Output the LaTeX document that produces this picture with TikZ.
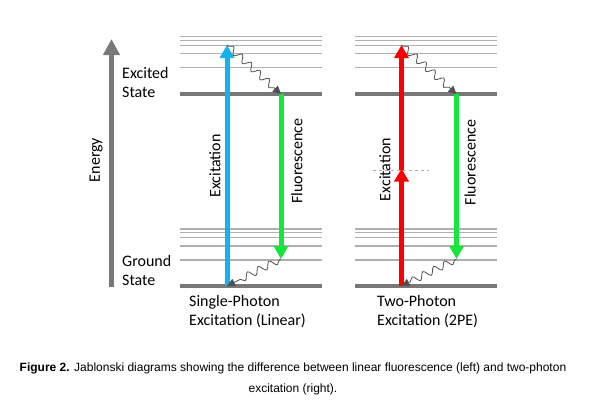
\documentclass[tikz,border=0pt]{standalone}
\usepackage{fontspec}
\setmainfont{Carlito}
\newfontfamily\capfont{Liberation Sans}
\usetikzlibrary{arrows.meta,decorations.pathmorphing}
\definecolor{thickgray}{RGB}{120,120,120}
\definecolor{thingray}{RGB}{175,175,175}
\definecolor{excblue}{RGB}{20,180,235}
\definecolor{fluogreen}{RGB}{20,230,60}
\definecolor{excred}{RGB}{250,0,0}
\definecolor{wavegray}{RGB}{80,80,80}
\tikzset{
  thinlevel/.style={draw=thingray,line width=1.1pt},
  thicklevel/.style={draw=thickgray,line width=4pt},
  photon/.style={line width=5pt,-{Triangle[length=13pt,width=14pt]}},
  wave/.style={draw=wavegray,line width=0.8pt,decorate,
    decoration={snake,amplitude=3.5pt,segment length=12pt,pre length=2pt,post length=9pt},
    -{Triangle[length=8pt,width=8pt]}},
  lbl/.style={font=\fontsize{16}{19}\selectfont,inner sep=0pt},
  sidelbl/.style={font=\fontsize{16}{19}\selectfont,inner sep=0pt,align=left,anchor=west},
}
\begin{document}
\begin{tikzpicture}[x=1pt,y=-1pt]
\useasboundingbox[fill=white] (0,0) rectangle (597,408);
% energy axis
\coordinate (eb) at (111.5,287);
\coordinate (et) at (111.5,39);
\draw[thickgray,line width=5pt,-{Triangle[length=16pt,width=16pt]}] (eb) -- (et);
\node[lbl,rotate=90] (energy) at (96,160) {Energy};
\node[sidelbl] (exc) at (122,82) {Excited\\State};
\node[sidelbl] (gnd) at (122,270) {Ground\\State};
% levels
\foreach \xa/\xb in {180/322, 355/497}{
  \foreach \yy in {36.7,40.3,45.3,53.3,67.7,229,232.3,237.7,246,260}{
    \draw[thinlevel] (\xa,\yy) -- (\xb,\yy);
  }
  \draw[thicklevel] (\xa,94) -- (\xb,94);
  \draw[thicklevel] (\xa,286) -- (\xb,286);
}
% left panel
\coordinate (lb0) at (227,286);
\coordinate (lb1) at (227,45);
\coordinate (lg0) at (281,94);
\coordinate (lg1) at (281,259);
\draw[excblue,photon] (lb0) -- (lb1);
\draw[fluogreen,photon] (lg0) -- (lg1);
\draw[wave] (lb1) -- (lg0);
\draw[wave] (lg1) -- (lb0);
\node[lbl,rotate=90] (lexc) at (215,166) {Excitation};
\node[lbl,rotate=90] (lflu) at (297,161) {Fluorescence};
\node[sidelbl] (lcap) at (189,312) {Single-Photon\\Excitation (Linear)};
% right panel
\coordinate (rb0) at (401.5,286);
\coordinate (rv) at (401.5,170);
\coordinate (rvt) at (401.5,168.5);
\coordinate (rvl) at (373,170);
\coordinate (rvr) at (429,170);
\coordinate (rb1) at (401.5,45);
\coordinate (rg0) at (456.5,94);
\coordinate (rg1) at (456.5,259);
\draw[thingray,dashed,line width=0.8pt] (rvl) -- (rvr);
\draw[excred,photon] (rb0) -- (rvt);
\draw[excred,photon] (rv) -- (rb1);
\draw[fluogreen,photon] (rg0) -- (rg1);
\draw[wave] (rb1) -- (rg0);
\draw[wave] (rg1) -- (rb0);
\node[lbl,rotate=90] (rexc) at (385,169.5) {Excitation};
\node[lbl,rotate=90] (rflu) at (470,162.5) {Fluorescence};
\node[sidelbl] (rcap) at (377,312) {Two-Photon\\Excitation (2PE)};
% caption
\node[font=\capfont\fontsize{12}{21}\selectfont,align=center,inner sep=0pt] (caption) at (293,379)
  {\textbf{Figure 2.} Jablonski diagrams showing the difference between linear fluorescence (left) and two-photon\\excitation (right).};
\end{tikzpicture}
\end{document}
